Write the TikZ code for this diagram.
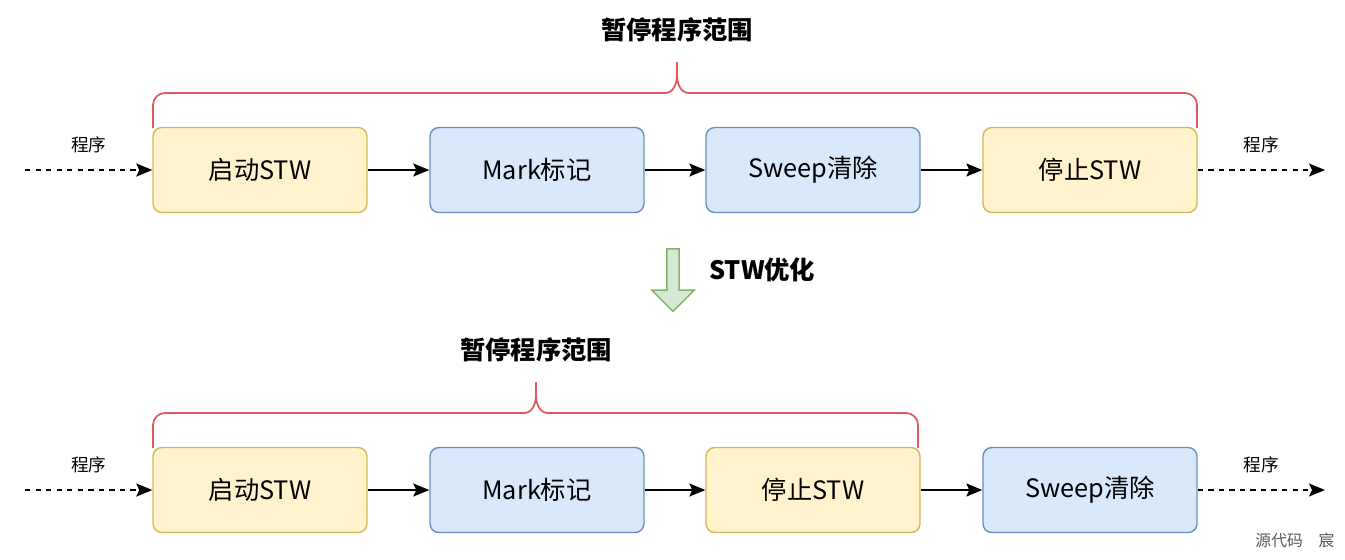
\documentclass[tikz,border=0pt]{standalone}
\usepackage{fontspec}
\setmainfont{Noto Sans CJK SC}
\usetikzlibrary{positioning,shapes.arrows,arrows.meta}
\definecolor{yfill}{HTML}{FFF2CC}
\definecolor{ydraw}{HTML}{D6B656}
\definecolor{bfill}{HTML}{DAE8FC}
\definecolor{bdraw}{HTML}{6C8EBF}
\definecolor{bracered}{HTML}{E05A5A}
\definecolor{gfill}{HTML}{D5E8D4}
\definecolor{gdraw}{HTML}{82B366}
\tikzset{>={Stealth[length=3.2mm,width=2.6mm,inset=0.6mm]}}
\tikzset{
  box/.style={rectangle, rounded corners=5pt, minimum width=4.28cm, minimum height=1.7cm, font=\Large, line width=0.8pt},
  stw/.style={box, fill=yfill, draw=ydraw},
  gc/.style={box, fill=bfill, draw=bdraw},
  brace/.style={draw=bracered, line width=1pt},
  flow/.style={->, line width=0.9pt},
  prog/.style={->, dashed, line width=0.9pt}
}
\begin{document}
\begin{tikzpicture}[x=0.02cm,y=-0.02cm]
  \useasboundingbox (0,0) rectangle (1345,559);
  % top row
  \node[stw] (start) at (260,170) {启动STW};
  \node[gc] (mark) at (537,170) {Mark标记};
  \node[gc] (sweep) at (813,170) {Sweep清除};
  \node[stw] (stop) at (1090,170) {停止STW};
  \coordinate (inL) at (25,170);
  \coordinate (outR) at (1325,170);
  \draw[prog] (inL) -- node[above=6pt] {程序} (start);
  \draw[prog] (stop) -- node[above=6pt] {程序} (outR);
  \draw[flow] (start) -- (mark);
  \draw[flow] (mark) -- (sweep);
  \draw[flow] (sweep) -- (stop);
  \draw[brace] (153,128) -- (153,105) to[out=90,in=180] (165,93) -- (665,93)
    to[out=0,in=-90] (677,75) -- (677,62);
  \draw[brace] (1197,128) -- (1197,105) to[out=90,in=0] (1185,93) -- (689,93)
    to[out=180,in=-90] (677,75);
  \node[font=\Large\bfseries] (title1) at (677,30) {暂停程序范围};
  % optimisation arrow
  \node[single arrow, rotate=-90, fill=gfill, draw=gdraw, line width=0.8pt,
        minimum width=0.85cm, single arrow head extend=0.12cm,
        minimum height=1.25cm, inner sep=1pt] (opt) at (673,277) {};
  \node[font=\Large\bfseries, anchor=west] (optlabel) at (703,270) {STW优化};
  % bottom row
  \node[stw] (start2) at (260,490) {启动STW};
  \node[gc] (mark2) at (537,490) {Mark标记};
  \node[stw] (stop2) at (813,490) {停止STW};
  \node[gc] (sweep2) at (1090,490) {Sweep清除};
  \coordinate (inL2) at (25,490);
  \coordinate (outR2) at (1325,490);
  \draw[prog] (inL2) -- node[above=6pt] {程序} (start2);
  \draw[prog] (sweep2) -- node[above=6pt] {程序} (outR2);
  \draw[flow] (start2) -- (mark2);
  \draw[flow] (mark2) -- (stop2);
  \draw[flow] (stop2) -- (sweep2);
  \draw[brace] (153,448) -- (153,425) to[out=90,in=180] (165,413) -- (524,413)
    to[out=0,in=-90] (536,395) -- (536,382);
  \draw[brace] (918,448) -- (918,425) to[out=90,in=0] (906,413) -- (548,413)
    to[out=180,in=-90] (536,395);
  \node[font=\Large\bfseries] (title2) at (536,350) {暂停程序范围};
  \node[font=\small, text=gray!70!black] (mark0) at (1295,540) {源代码\quad 宸};
\end{tikzpicture}
\end{document}
